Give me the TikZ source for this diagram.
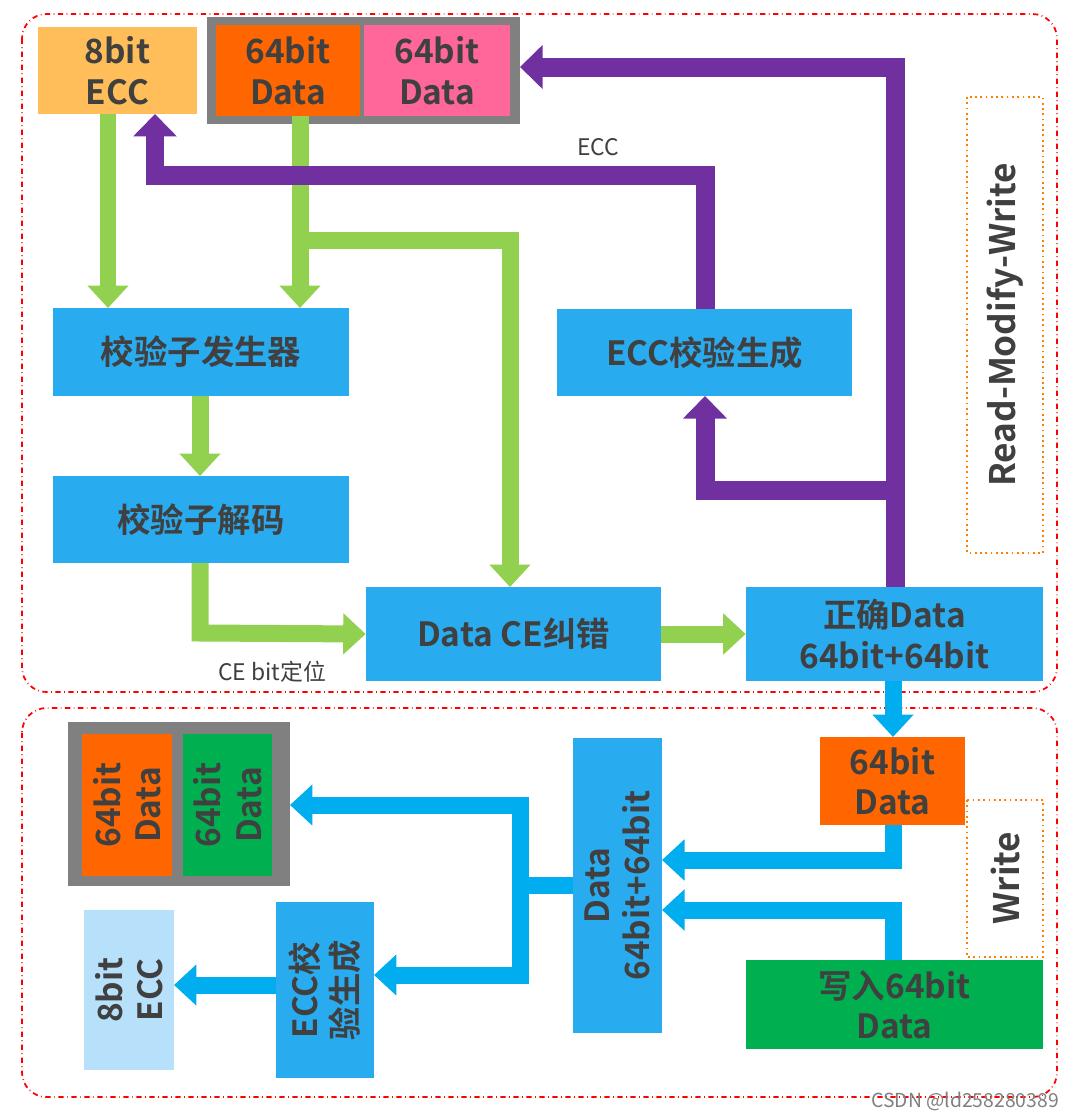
\documentclass[tikz,border=0pt]{standalone}
\usepackage{fontspec}
\setmainfont{Noto Sans CJK SC}[BoldFont={* Bold}]
\usetikzlibrary{arrows.meta}
\definecolor{blu}{RGB}{41,171,240}
\definecolor{org}{RGB}{255,102,0}
\definecolor{pnk}{RGB}{255,102,153}
\definecolor{lor}{RGB}{255,190,90}
\definecolor{grn}{RGB}{0,176,80}
\definecolor{lbl}{RGB}{183,224,250}
\definecolor{gar}{RGB}{146,208,80}
\definecolor{pur}{RGB}{112,48,160}
\definecolor{txt}{RGB}{64,64,64}
\tikzset{
 x=0.02cm,y=-0.02cm,
 box/.style={draw=none,inner sep=0,text=txt,font=\bfseries\fontsize{19}{23}\selectfont,align=center},
 zone/.style={draw=red,dash dot,line width=1pt,rounded corners=14pt},
 tag/.style={draw=orange,dotted,line width=1pt},
 ga/.style={draw=gar,line width=0.34cm,-{Triangle[length=0.45cm,width=0.8cm]}},
 gl/.style={draw=gar,line width=0.34cm},
 pa/.style={draw=pur,line width=0.38cm,-{Triangle[length=0.45cm,width=0.85cm]}},
 pl/.style={draw=pur,line width=0.38cm},
 ca/.style={draw=cyan,line width=0.34cm,-{Triangle[length=0.45cm,width=0.8cm]}},
 cl/.style={draw=cyan,line width=0.34cm},
}
\begin{document}
\begin{tikzpicture}
\useasboundingbox (0,0) rectangle (1080,1116);
\fill[white] (0,0) rectangle (1080,1116);
\draw[zone] (22,14) rectangle (1057,692);
\draw[zone] (22,708) rectangle (1057,1097);
% top boxes
\node[box,fill=lor,minimum width=3.18cm,minimum height=1.74cm] (ecc8) at (117.5,70.5) {8bit\\ECC};
\fill[gray] (207,17) rectangle (520,124);
\node[box,fill=org,minimum width=2.88cm,minimum height=1.82cm] (d1) at (288,70.5) {64bit\\Data};
\node[box,fill=pnk,minimum width=2.92cm,minimum height=1.82cm] (d2) at (437,70.5) {64bit\\Data};
\coordinate (frm) at (520,67);
\draw[tag] (967,97) rectangle (1043,553);
\node[box,rotate=90,font=\bfseries\fontsize{20}{24}\selectfont] (rmw) at (1005,325) {Read-Modify-Write};
\node[box,fill=blu,minimum width=5.92cm,minimum height=1.76cm] (syn) at (201,352) {校验子发生器};
\node[box,fill=blu,minimum width=5.92cm,minimum height=1.74cm] (dec) at (201,519.5) {校验子解码};
\node[box,fill=blu,minimum width=5.9cm,minimum height=1.74cm] (eccg) at (704.5,352.5) {ECC校验生成};
\node[box,fill=blu,minimum width=5.9cm,minimum height=1.88cm] (ce) at (513.5,634) {Data CE纠错};
\node[box,fill=blu,minimum width=5.94cm,minimum height=1.88cm] (ok) at (894.5,634) {正确Data\\64bit+64bit};
% green
\draw[ga] (108,114) -- (108,308);
\draw[ga] (300,116) -- (300,308);
\draw[ga] (300,240) -- (510,240) -- (510,587);
\draw[ga] (200,396) -- (200,476);
\draw[ga] (200,563) -- (200,633) -- (ce.west);
\draw[ga] (ce.east) -- (ok.west);
\node[text=txt,font=\fontsize{13}{15}\selectfont] (celbl) at (272,672) {CE bit定位};
% purple
\draw[pa] (895,587) -- (895,67) -- (frm);
\draw[pa] (895,490) -- (705,490) -- (705,396);
\draw[pa] (705,309) -- (705,175) -- (155,175) -- (155,114);
\node[text=txt,font=\fontsize{13}{15}\selectfont] (ecclbl) at (598,147) {ECC};
% bottom
\draw[ca] (893,681) -- (893,737);
\node[box,fill=org,minimum width=2.9cm,minimum height=1.76cm] (wd) at (892.5,781) {64bit\\Data};
\draw[tag] (967,800) rectangle (1043,957);
\node[box,rotate=90,font=\bfseries\fontsize{20}{24}\selectfont] (wr) at (1005,878) {Write};
\node[box,fill=grn,minimum width=5.94cm,minimum height=1.78cm] (in) at (894.5,1004.5) {写入64bit\\Data};
\node[box,fill=blu,minimum width=1.78cm,minimum height=5.9cm] (bar) at (617.5,885.5) {};
\node[box,rotate=90] at (bar.center) {Data\\64bit+64bit};
\draw[ca] (893,825) -- (893,860) -- (662,860);
\draw[ca] (893,960) -- (893,910) -- (662,910);
\draw[cl] (573,885) -- (520,885);
\draw[ca] (520,885) -- (520,805) -- (290,805);
\draw[ca] (520,885) -- (520,975) -- (374,975);
\fill[gray] (68,722) rectangle (290,886);
\node[box,fill=org,minimum width=1.8cm,minimum height=2.84cm] (bd1) at (127,805) {};
\node[box,rotate=90] at (bd1.center) {64bit\\Data};
\node[box,fill=grn,minimum width=1.78cm,minimum height=2.84cm] (bd2) at (227.5,805) {};
\node[box,rotate=90] at (bd2.center) {64bit\\Data};
\node[box,fill=blu,minimum width=1.96cm,minimum height=3.52cm] (beg) at (325,990) {};
\node[box,rotate=90] at (beg.center) {ECC校\\验生成};
\node[box,fill=lbl,minimum width=1.8cm,minimum height=3.2cm] (be8) at (129,990) {};
\node[box,rotate=90] at (be8.center) {8bit\\ECC};
\draw[ca] (beg.west |- 0,985) -- (174,985);
\node[text=gray,font=\fontsize{11}{13}\selectfont,anchor=east] (wm) at (1065,1101) {CSDN @ld258280389};
\end{tikzpicture}
\end{document}
